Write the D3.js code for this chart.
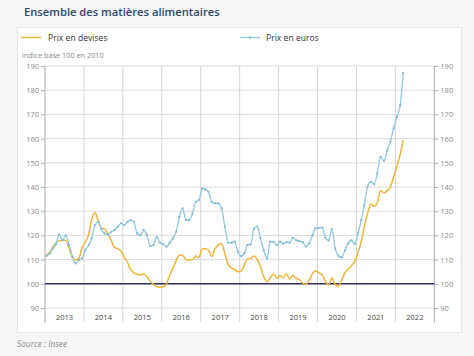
<!DOCTYPE html>
<html><head><meta charset="utf-8">
<script src="https://cdn.jsdelivr.net/npm/d3@7"></script>
<style>
html,body{margin:0;padding:0;background:#f6f6f6;}
svg{display:block;font-family:"Open Sans",sans-serif;}
</style></head>
<body>
<svg id="c" width="474" height="356"></svg>
<script>
const years = [2013,2014,2015,2016,2017,2018,2019,2020,2021,2022];
const yTicks = [90,100,110,120,130,140,150,160,170,180,190];
const seriesNames = ["Prix en devises","Prix en euros"];
// monthly, Jan 2013 .. Mar 2022
const prixDevises = [
112,113,115,117,117.8,118,118,114.5,111,109.8,110.5,115,
117.2,120.5,126.5,129.5,126,123,122.7,120.5,117.8,115,114.5,113.5,
111,108.7,106,104.5,104,103.7,104,103,101,99.8,98.8,98.5,
98.8,100,103.5,106.4,109.5,111.9,111.8,110,109.8,110,111.5,110.8,
114.4,114.6,113.9,111.3,114.5,116,116.7,112.5,108,106.6,106,105,
105.2,108,110.3,110.5,111.5,110,107,103,100.8,102.5,104,102.3,
103.4,102.5,104,102,103.5,102.3,101.7,100.4,99.7,101.5,104.2,105.3,
104.5,103.6,101,99.5,102.5,99.8,99,101.5,104.5,106,107.5,109.3,
113,117.5,123.5,129,133,132,133.5,138.5,137.5,138.5,140,144,
148.5,153.5,159.4
];
const prixEuros = [
111.5,112.5,114.5,116.5,120.4,118,120,116,111.2,108.4,109.8,110.5,
114,116,118.8,124.3,125.6,122.5,120.8,120.4,121.5,122.2,123.6,125,
124.2,125.6,126.3,125.6,120.8,120.1,122.2,120.1,115.6,116,119.4,117,
116.4,115.3,117,118.8,121.5,127.7,131.2,126.3,126.3,129,133.9,134.6,
139.4,139,138,133.9,133.2,133.2,131.2,123.6,117,117,117.4,113.2,
111.4,112.6,116,116.3,122.9,123.6,118.8,113.9,110.5,117.4,117.4,116,
117.4,116.5,117.2,117,119,118,117.6,117.2,115.4,116.7,120,122.9,
123.1,123.2,119.1,117.9,122.6,114.6,111.6,110.9,113.9,116.7,118,116.5,
120.8,126.3,132.5,140.1,142.1,141.2,145.6,152.5,150.8,155,158.7,164.2,
169,173.8,187.2
];
const colors = {devises:"#f2b53a", euros:"#8fc8e0", ref:"#2f2f63"};

const svg = d3.select("#c");
// card
svg.append("rect").attr("x",17.5).attr("y",27.5).attr("width",444).attr("height",305)
  .attr("fill","#fff").attr("stroke","#e6e6e6");
svg.append("text").attr("x",24).attr("y",15.5).text("Ensemble des matières alimentaires")
  .attr("font-size",11.2).attr("font-weight",600).attr("fill","#2d4a6c");

const x = d3.scaleTime().domain([new Date(2013,0,1), new Date(2023,0,1)]).range([45,434.3]);
const y = d3.scaleLinear().domain([90,190]).range([308,66]);
const date = i => new Date(2013, i, 15);

// horizontal gridlines
svg.append("g").selectAll("line").data(yTicks).join("line")
  .attr("x1",45).attr("x2",434.3).attr("y1",d=>y(d)).attr("y2",d=>y(d))
  .attr("stroke","#dcdcdc").attr("stroke-width",1);
// vertical year lines
const yearBounds = years.concat([2023]).map(v=>new Date(v,0,1));
svg.append("g").selectAll("line").data(yearBounds.slice(1,-1)).join("line")
  .attr("x1",d=>x(d)).attr("x2",d=>x(d)).attr("y1",66).attr("y2",322)
  .attr("stroke","#d6d6d6");
// axes lines
[45,434.3].forEach(xx=>svg.append("line").attr("x1",xx).attr("x2",xx).attr("y1",66).attr("y2",323)
  .attr("stroke","#a8a8a8"));

// y axes with d3
const yl = d3.axisLeft(y).tickValues(yTicks).tickSize(4).tickPadding(2);
const gl = svg.append("g").attr("transform","translate(45,0)").call(yl);
const yr = d3.axisRight(y).tickValues(yTicks).tickSize(4).tickPadding(2);
const gr = svg.append("g").attr("transform","translate(434.3,0)").call(yr);
[gl,gr].forEach(g=>{
  g.select(".domain").remove();
  g.selectAll(".tick line").attr("stroke","#b0b0b0");
  g.selectAll("text").attr("font-size",7.5).attr("fill","#8a8a8a").attr("font-family","Open Sans, sans-serif");
});

// year labels
svg.append("g").selectAll("text").data(years).join("text")
  .attr("x",d=>(x(new Date(d,0,1))+x(new Date(d+1,0,1)))/2).attr("y",320)
  .attr("text-anchor","middle").attr("font-size",7.5).attr("fill","#444").text(d=>d);

// reference 100
svg.append("line").attr("x1",45).attr("x2",434.3).attr("y1",y(100)).attr("y2",y(100))
  .attr("stroke",colors.ref).attr("stroke-width",1.4);

const line = d3.line().x((d,i)=>x(date(i))).y(d=>y(d)).curve(d3.curveMonotoneX);
svg.append("path").datum(prixDevises).attr("d",line).attr("fill","none")
  .attr("stroke",colors.devises).attr("stroke-width",1.5);
svg.append("path").datum(prixEuros).attr("d",line).attr("fill","none")
  .attr("stroke",colors.euros).attr("stroke-width",1.3);
svg.append("g").selectAll("circle").data(prixEuros).join("circle")
  .attr("cx",(d,i)=>x(date(i))).attr("cy",d=>y(d)).attr("r",1.1).attr("fill","#7fb9d6");

// legend
const lg = svg.append("g");
lg.append("line").attr("x1",21).attr("x2",41).attr("y1",37.5).attr("y2",37.5).attr("stroke",colors.devises).attr("stroke-width",1.5);
lg.append("text").attr("x",48).attr("y",40.5).attr("font-size",8.6).attr("fill","#333").text(seriesNames[0]);
lg.append("line").attr("x1",240).attr("x2",260).attr("y1",37.5).attr("y2",37.5).attr("stroke",colors.euros).attr("stroke-width",1.3);
lg.append("circle").attr("cx",250).attr("cy",37.5).attr("r",1.2).attr("fill","#7fb9d6");
lg.append("text").attr("x",266).attr("y",40.5).attr("font-size",8.6).attr("fill","#333").text(seriesNames[1]);

svg.append("text").attr("x",22).attr("y",57.5).attr("font-size",7.3).attr("fill","#8a8a8a").text("indice base 100 en 2010");
svg.append("text").attr("x",17).attr("y",347).attr("font-size",8.3).attr("font-style","italic").attr("fill","#8a8a8a").text("Source : Insee");
</script>
</body></html>
